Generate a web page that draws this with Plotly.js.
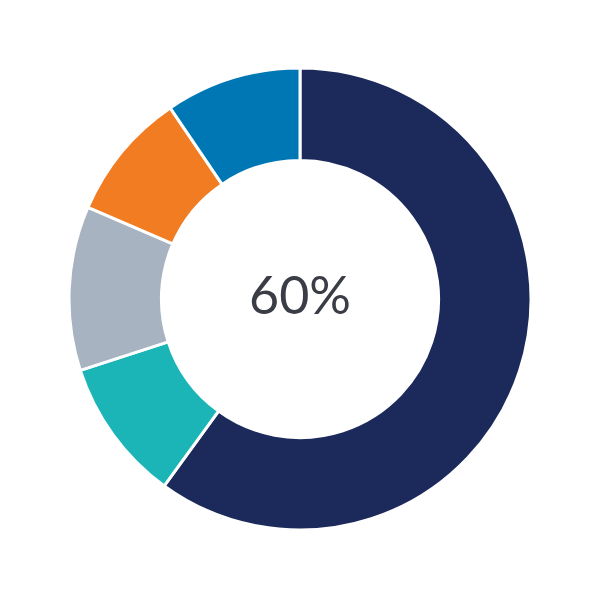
<!DOCTYPE html>
<html>
<head>
<meta charset="utf-8">
<script src="https://cdn.plot.ly/plotly-3.0.1.min.js"></script>
<style>
  html, body { margin: 0; padding: 0; background: #ffffff; }
  #chart { width: 600px; height: 599px; }
</style>
</head>
<body>
<div id="chart"></div>
<script>
// parts du donut, dans l'ordre horaire depuis midi
var segments = ['Principal', 'Turquoise', 'Gris', 'Orange', 'Bleu'];
var parts = [60, 10, 11.5, 9, 9.5];
var couleurs = ['#1b2a5b', '#1bb5b8', '#a7b3c1', '#f27c21', '#0077b5'];
var texteCentre = '60%';

var trace = {
    type: 'pie',
    labels: segments,
    values: parts,
    hole: 0.6,
    sort: false,
    direction: 'clockwise',
    rotation: 0,
    textinfo: 'none',
    hoverinfo: 'label+percent',
    marker: {
        colors: couleurs,
        line: { color: '#ffffff', width: 3 }
    }
};

var layout = {
    width: 600,
    height: 599,
    showlegend: false,
    margin: { t: 68, b: 69, l: 69, r: 69 },
    paper_bgcolor: '#ffffff',
    annotations: [{
        text: texteCentre,
        x: 0.5, y: 0.5,
        xref: 'paper', yref: 'paper',
        yshift: 5,
        showarrow: false,
        font: { family: 'Lato', size: 52, color: '#3a3d45' }
    }]
};

Plotly.newPlot('chart', [trace], layout, { displayModeBar: false });
</script>
</body>
</html>
